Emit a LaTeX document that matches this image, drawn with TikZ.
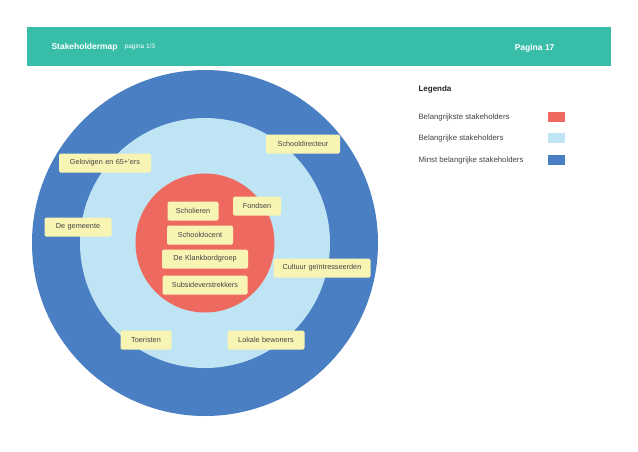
\documentclass[tikz,border=0pt]{standalone}
\usepackage{fontspec}
\setmainfont{Liberation Sans}
\definecolor{teal}{HTML}{38BEA8}
\definecolor{outerc}{HTML}{4A7FC3}
\definecolor{midc}{HTML}{BFE4F4}
\definecolor{innerc}{HTML}{EE6A60}
\definecolor{notec}{HTML}{F8F4B4}
\definecolor{txt}{HTML}{444444}
\begin{document}
\begin{tikzpicture}[x=1pt,y=-1pt,
  note/.style={fill=notec,rounded corners=1.5pt,inner sep=0pt,minimum height=19pt,text width=#1,align=center,font=\fontsize{7.3}{8}\selectfont,text=txt},
  leg/.style={anchor=west,font=\fontsize{7.8}{9}\selectfont,text=txt},
  sw/.style={minimum width=17pt,minimum height=10pt,inner sep=0pt}]
\useasboundingbox (0,0) rectangle (638,451);
\fill[white] (0,0) rectangle (638,451);
\node[fill=teal,minimum width=584pt,minimum height=39pt,inner sep=0pt,anchor=north west] (hdr) at (27,27) {};
\node[anchor=west,text=white,font=\bfseries\fontsize{8.5}{10}\selectfont] (t1) at (48,47) {Stakeholdermap};
\node[anchor=west,text=white,font=\fontsize{6.5}{8}\selectfont] (t2) at (t1.east) {pagina 1/3};
\node[anchor=east,text=white,font=\bfseries\fontsize{8.5}{10}\selectfont] (t3) at (558,48) {Pagina 17};
\node[circle,fill=outerc,minimum size=346pt,inner sep=0pt] (c1) at (205,243) {};
\node[circle,fill=midc,minimum size=250pt,inner sep=0pt] (c2) at (205,243) {};
\node[circle,fill=innerc,minimum size=139pt,inner sep=0pt] (c3) at (205,243) {};
\node[note=74pt] (n1) at (303,144) {Schooldirecteur};
\node[note=92pt] (n2) at (105,163) {Gelovigen en 65+'ers};
\node[note=67pt] (n3) at (78,227) {De gemeente};
\node[note=51pt] (n4) at (193,211) {Scholieren};
\node[note=48pt] (n5) at (257,206) {Fondsen};
\node[note=66pt] (n6) at (200,235) {Schooldocent};
\node[note=86pt] (n7) at (205,259) {De Klankbordgroep};
\node[note=85pt] (n8) at (205,285) {Subsideverstrekkers};
\node[note=97pt] (n9) at (322,268) {Cultuur geïntresseerden};
\node[note=51pt] (n10) at (146,340) {Toeristen};
\node[note=77pt] (n11) at (266,340) {Lokale bewoners};
\node[anchor=west,font=\bfseries\fontsize{8}{10}\selectfont,text=black!85] (lg) at (415,89) {Legenda};
\node[leg] (l1) at (415,117) {Belangrijkste stakeholders};
\node[leg] (l2) at (415,138) {Belangrijke stakeholders};
\node[leg] (l3) at (415,160) {Minst belangrijke stakeholders};
\node[sw,fill=innerc] (s1) at (556,117) {};
\node[sw,fill=midc] (s2) at (556,138) {};
\node[sw,fill=outerc] (s3) at (556,160) {};
\end{tikzpicture}
\end{document}
